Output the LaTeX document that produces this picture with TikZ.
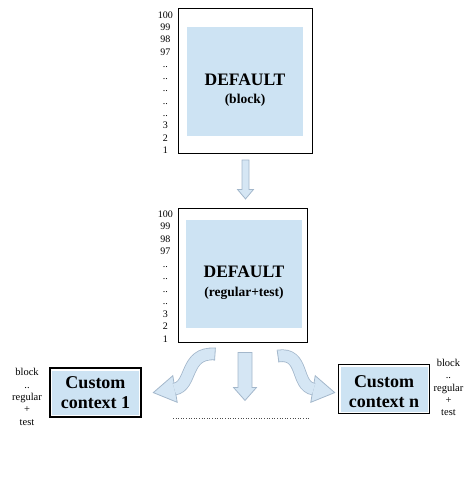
\documentclass[tikz,border=0pt]{standalone}
\usepackage{fontspec}
\setmainfont{Liberation Serif}
\usetikzlibrary{positioning,calc}
\definecolor{boxblue}{HTML}{CDE3F3}
\definecolor{arrfill}{HTML}{D5E6F4}
\definecolor{arrline}{HTML}{A3B7CB}

\begin{document}
\begin{tikzpicture}[x=1pt,y=-1pt,
  outer/.style={draw,line width=1.3pt,fill=white,inner sep=0pt},
  inner/.style={fill=boxblue,inner sep=0pt},
  ctx/.style={draw,line width=1.8pt,fill=white,inner sep=0pt,
    minimum width=91pt,minimum height=49pt,
    path picture={\fill[boxblue] ($(path picture bounding box.south west)+(2pt,2pt)$)
      rectangle ($(path picture bounding box.north east)+(-2pt,-2.5pt)$);}},
  ctxtext/.style={align=center,inner sep=0pt,font=\fontsize{18}{20}\selectfont\bfseries},
  nums/.style={align=center,inner sep=0pt,font=\fontsize{10}{12.3}\selectfont},
  side/.style={align=center,inner sep=0pt,font=\fontsize{10.5}{12.4}\selectfont},
  big/.style={inner sep=0pt,anchor=base,font=\fontsize{17.5}{20}\selectfont\bfseries},
  sub/.style={inner sep=0pt,anchor=base,font=\fontsize{13.5}{15}\selectfont\bfseries},
  barrow/.style={draw=arrline,line width=0.8pt,fill=arrfill,line join=miter},
  shaft/.style={draw=arrline,line width=0.8pt,double=arrfill,double distance=11pt,shorten >=-0.6pt}]
\useasboundingbox (0,0) rectangle (474,479);

% default block
\node[outer,minimum width=133.6pt,minimum height=144.6pt] (dflt) at (245.5,81) {};
\node[inner,minimum width=116pt,minimum height=109pt] (dfltin) at (245,81.5) {};
\node[big] (dfltname) at (245,85) {DEFAULT};
\node[sub] (dfltmode) at (245,103.5) {(block)};
\node[nums,left=5pt of dflt.west,yshift=-1.5pt] (dfltlvl)
  {100\\99\\98\\97\\..\\..\\..\\..\\..\\3\\2\\1};

% default regular+test
\node[outer,minimum width=128.6pt,minimum height=133.6pt] (reg) at (243,275.5) {};
\node[inner,minimum width=116pt,minimum height=108pt] (regin) at (244,274) {};
\node[big] (regname) at (244,277.8) {DEFAULT};
\node[sub] (regmode) at (244,296.5) {(regular+test)};
\node[nums,left=5pt of reg.west,yshift=-1pt,font=\fontsize{10}{12.5}\selectfont] (reglvl)
  {100\\99\\98\\97\\..\\..\\..\\..\\3\\2\\1};

% custom contexts
\node[ctx] (ctx1) at (95.5,392.5) {};
\node[ctxtext] (ctx1name) at (95.5,393) {Custom\\context 1};
\node[ctx] (ctxn) at (384,389) {};
\node[ctxtext] (ctxnname) at (384,392) {Custom\\context n};
\node[side,left=7pt of ctx1.west,yshift=-4.5pt] (ctx1lvl) {block\\..\\regular\\+\\test};
\node[side,right=3pt of ctxn.east,yshift=1.5pt] (ctxnlvl) {block\\..\\regular\\+\\test};

% straight arrows
\coordinate (a1) at ($(dflt.south)+(0,6)$);
\draw[barrow] (a1) ++(-3.5,0) -- ++(0,29.5) -- ++(-4.5,0) -- ++(8,9.5)
  -- ++(8,-9.5) -- ++(-4.5,0) -- ++(0,-29.5) -- cycle;
\coordinate (a2) at ($(reg.south)+(2,9.5)$);
\draw[barrow] (a2) ++(-7,0) -- ++(0,35) -- ++(-4.5,0) -- ++(11.5,13)
  -- ++(11.5,-13) -- ++(-4.5,0) -- ++(0,-35) -- cycle;

% curved arrows
\coordinate (l0) at (215,354);
\coordinate (l1) at (175,389);
\draw[barrow] (172.8,375.7) -- (153.3,392.6) -- (177.2,402.3) -- cycle;
\draw[shaft] (l0) .. controls (184,352) and (193,386) .. (l1);
\draw[arrline,line width=0.8pt] (215.4,347.7) -- (214.6,360.3);

\coordinate (r0) at (278,356);
\coordinate (r1) at (313,389);
\draw[barrow] (315.2,375.7) -- (334.7,392.6) -- (310.8,402.3) -- cycle;
\draw[shaft] (r0) .. controls (305,352) and (295,386) .. (r1);
\draw[arrline,line width=0.8pt] (278.9,362.2) -- (277.1,349.8);

\draw[dotted,line width=0.6pt,black!70] (173,418) -- (310,418);
\end{tikzpicture}
\end{document}
